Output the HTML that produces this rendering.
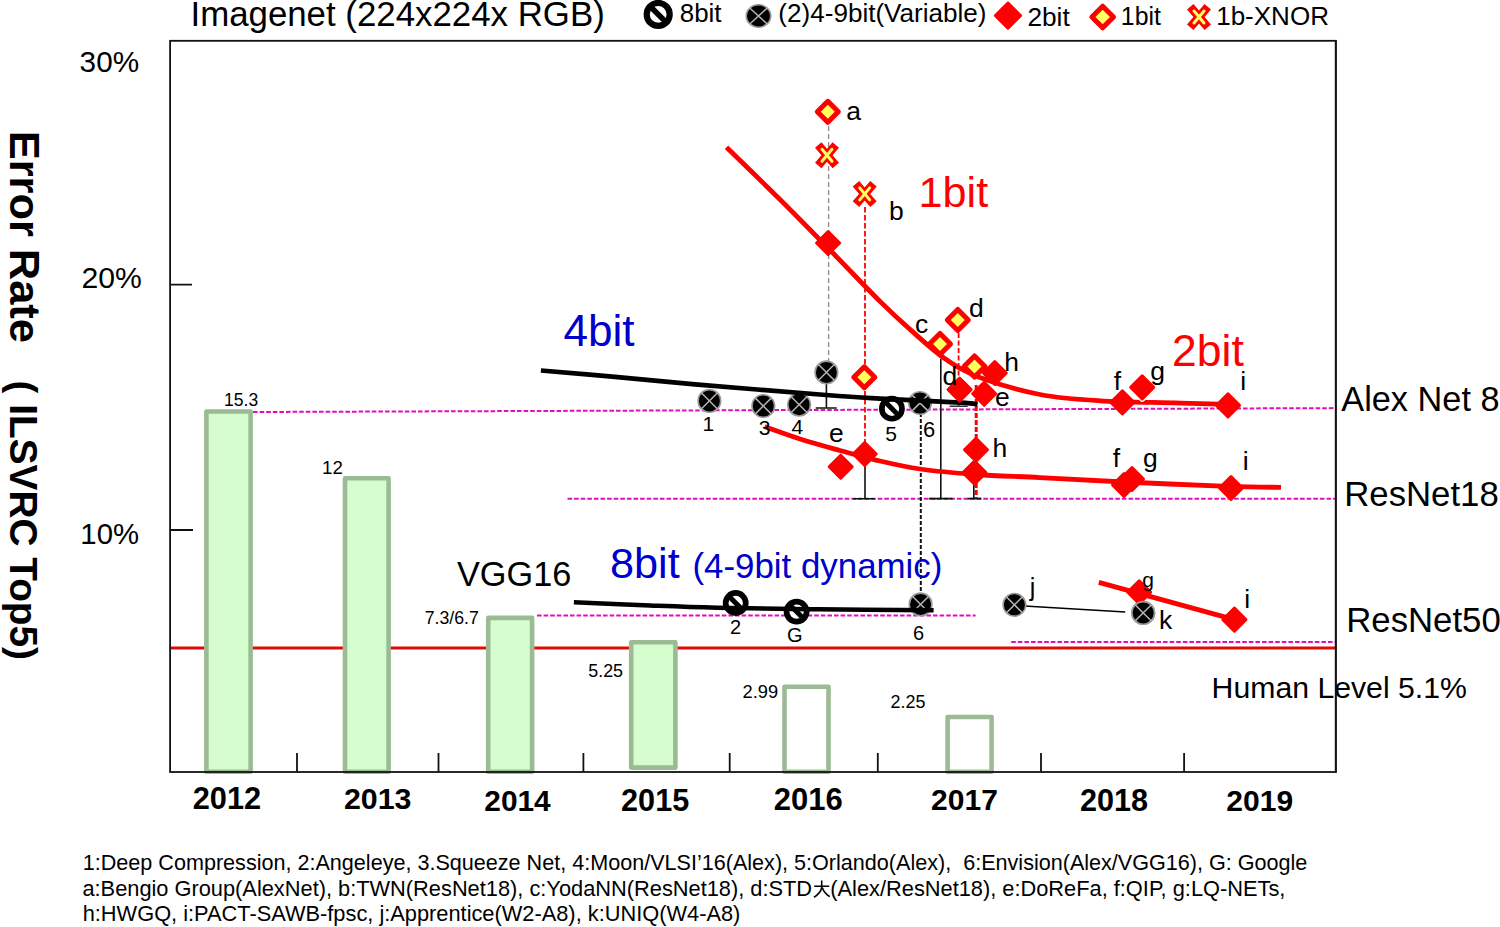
<!DOCTYPE html>
<html><head><meta charset="utf-8"><title>Imagenet chart</title>
<style>
html,body{margin:0;padding:0;background:#fff;width:1500px;height:927px;overflow:hidden}
svg{display:block}
text{font-family:"Liberation Sans",sans-serif}
</style></head><body>
<svg width="1500" height="927" viewBox="0 0 1500 927">
<rect width="1500" height="927" fill="#fff"/>
<text x="190.46" y="25.70" style="font-size:34.85px;" fill="#000" >Imagenet (224x224x RGB)</text>
<circle cx="658.2" cy="14.4" r="11.5" fill="#fff" stroke="#000" stroke-width="6.199999999999999"/>
<line x1="650.06835" y1="6.268350000000002" x2="666.3316500000001" y2="22.53165" stroke="#000" stroke-width="5.5"/>
<text x="679.76" y="21.60" style="font-size:25.91px;" fill="#000" >8bit</text>
<ellipse cx="758.5" cy="16" rx="12.2" ry="11.2" fill="#000" stroke="#9a9a9a" stroke-width="1.6"/>
<path d="M749.716,7.936L767.284,24.064M767.284,7.936L749.716,24.064" stroke="#b4b4b4" stroke-width="1.5"/>
<text x="778.34" y="22.20" style="font-size:26.08px;" fill="#000" >(2)4-9bit(Variable)</text>
<path d="M1008,3.0999999999999996L1020.5,15.6L1008,28.1L995.5,15.6Z" fill="#ff0000" stroke="#ff0000" stroke-width="3" stroke-linejoin="round" />
<text x="1027.39" y="25.80" style="font-size:26.27px;" fill="#000" >2bit</text>
<path d="M1102.7,6.199999999999999L1113.5,17L1102.7,27.8L1091.9,17Z" fill="#ffff5e" stroke="#ff0000" stroke-width="5" stroke-linejoin="round"/>
<text x="1120.86" y="25.00" style="font-size:24.86px;" fill="#000" >1bit</text>
<path d="M1193.0,10.0L1205.0,24.0M1205.0,10.0L1193.0,24.0" stroke="#ff0000" stroke-width="8.5" stroke-linecap="square" fill="none"/>
<path d="M1194.0,11.0L1204.0,23.0M1204.0,11.0L1194.0,23.0" stroke="#ffff5e" stroke-width="3.0" stroke-linecap="round" fill="none"/>
<text x="1216.18" y="25.00" style="font-size:26.03px;" fill="#000" >1b-XNOR</text>
<text transform="translate(9.5,130.70) rotate(90)" style="font-size:43.4px;font-weight:bold">Error Rate</text>
<text transform="translate(9.6,380.46) rotate(90)" style="font-size:38.6px;font-weight:bold">(</text>
<text transform="translate(9.8,404.27) rotate(90)" style="font-size:38.8px;font-weight:bold">ILSVRC Top5)</text>
<text x="79.61" y="72.40" style="font-size:29.71px;" fill="#000" >30%</text>
<text x="81.39" y="287.90" style="font-size:30.17px;" fill="#000" >20%</text>
<text x="80.35" y="544.00" style="font-size:29.33px;" fill="#000" >10%</text>
<line x1="170" y1="648" x2="1336" y2="648" stroke="#e20a04" stroke-width="3.2"/>
<rect x="206.4" y="411.5" width="44.2" height="360.20000000000005" fill="#d5fdcd" stroke="#9bbb95" stroke-width="4.6" stroke-linejoin="round"/>
<rect x="345" y="478.3" width="43.6" height="293.40000000000003" fill="#d5fdcd" stroke="#9bbb95" stroke-width="4.6" stroke-linejoin="round"/>
<rect x="488.2" y="617.9" width="43.9" height="153.80000000000007" fill="#d5fdcd" stroke="#9bbb95" stroke-width="4.6" stroke-linejoin="round"/>
<rect x="631.2" y="642.3" width="44.2" height="125.30000000000007" fill="#d5fdcd" stroke="#9bbb95" stroke-width="4.6" stroke-linejoin="round"/>
<rect x="784.5" y="686.8" width="44" height="85.0" fill="#fff" stroke="#9bbb95" stroke-width="4.6" stroke-linejoin="round"/>
<rect x="947.6" y="717" width="44" height="54.700000000000045" fill="#fff" stroke="#9bbb95" stroke-width="4.6" stroke-linejoin="round"/>
<text x="224.08" y="406.00" style="font-size:17.50px;" fill="#000" >15.3</text>
<text x="322.09" y="473.90" style="font-size:18.67px;" fill="#000" >12</text>
<text x="424.72" y="624.00" style="font-size:17.69px;" fill="#000" >7.3/6.7</text>
<text x="588.29" y="677.00" style="font-size:17.86px;" fill="#000" >5.25</text>
<text x="742.59" y="698.10" style="font-size:18.27px;" fill="#000" >2.99</text>
<text x="890.60" y="708.00" style="font-size:17.90px;" fill="#000" >2.25</text>
<rect x="170.1" y="40.8" width="1165.7" height="731.2" fill="none" stroke="#111" stroke-width="1.8"/>
<path d="M170,284.7H192M170,530H193" stroke="#111" stroke-width="1.8"/>
<line x1="297" y1="772" x2="297" y2="753" stroke="#111" stroke-width="1.8"/>
<line x1="438.5" y1="772" x2="438.5" y2="753" stroke="#111" stroke-width="1.8"/>
<line x1="583.4" y1="772" x2="583.4" y2="753" stroke="#111" stroke-width="1.8"/>
<line x1="729.7" y1="772" x2="729.7" y2="753" stroke="#111" stroke-width="1.8"/>
<line x1="877.8" y1="772" x2="877.8" y2="753" stroke="#111" stroke-width="1.8"/>
<line x1="1041" y1="772" x2="1041" y2="753" stroke="#111" stroke-width="1.8"/>
<line x1="1184.1" y1="772" x2="1184.1" y2="753" stroke="#111" stroke-width="1.8"/>
<text x="192.68" y="808.90" style="font-size:30.76px;font-weight:bold;" fill="#000" >2012</text>
<text x="343.89" y="809.00" style="font-size:30.39px;font-weight:bold;" fill="#000" >2013</text>
<text x="484.30" y="811.00" style="font-size:29.84px;font-weight:bold;" fill="#000" >2014</text>
<text x="621.08" y="811.00" style="font-size:30.62px;font-weight:bold;" fill="#000" >2015</text>
<text x="773.77" y="810.20" style="font-size:30.99px;font-weight:bold;" fill="#000" >2016</text>
<text x="931.10" y="810.00" style="font-size:30.02px;font-weight:bold;" fill="#000" >2017</text>
<text x="1079.88" y="811.00" style="font-size:30.62px;font-weight:bold;" fill="#000" >2018</text>
<text x="1226.30" y="811.00" style="font-size:30.02px;font-weight:bold;" fill="#000" >2019</text>
<line x1="253" y1="412" x2="1336" y2="408.1" stroke="#e40cbe" stroke-width="2" stroke-dasharray="4.6 2"/>
<line x1="567.5" y1="498.8" x2="1336" y2="498.8" stroke="#e40cbe" stroke-width="2" stroke-dasharray="4.6 2"/>
<line x1="537" y1="615.6" x2="975.6" y2="615.6" stroke="#e40cbe" stroke-width="2" stroke-dasharray="4.6 2"/>
<line x1="1011.2" y1="642" x2="1336" y2="642" stroke="#e40cbe" stroke-width="2" stroke-dasharray="4.6 2"/>
<line x1="828.6" y1="126" x2="828.6" y2="362" stroke="#8a8a8a" stroke-width="1.3" stroke-dasharray="5 3"/>
<line x1="865" y1="207" x2="865" y2="454" stroke="#ff0000" stroke-width="1.8" stroke-dasharray="5.5 2.5"/>
<line x1="958.6" y1="333" x2="958.6" y2="380" stroke="#ff0000" stroke-width="1.8" stroke-dasharray="5 2.5"/>
<line x1="976.2" y1="385" x2="976.2" y2="498.6" stroke="#ff0000" stroke-width="3" stroke-dasharray="5 2"/>
<line x1="920.8" y1="413" x2="920.8" y2="593" stroke="#111" stroke-width="2" stroke-dasharray="4 2"/>
<path d="M940.8,358.7V498.6M929,498.6H952.6" stroke="#111" stroke-width="1.6" fill="none"/>
<path d="M865,454V498.7M853.3,498.7H874.7" stroke="#111" stroke-width="1.6" fill="none"/>
<path d="M826.4,383V408M815.7,408H836.7" stroke="#111" stroke-width="1.6" fill="none"/>
<path d="M973.8,484V498.6M967.7,498.6H981.3" stroke="#111" stroke-width="1.6" fill="none"/>
<path d="M958.7,400V406.2M949.6,406.2H967.7" stroke="#333" stroke-width="1.4" fill="none"/>
<line x1="1024.4" y1="605.9" x2="1125.2" y2="611.9" stroke="#000" stroke-width="1.5"/>
<path d="M726.50,147.30 C735.42,156.00 761.98,181.58 780.00,199.50 C798.02,217.42 817.93,237.82 834.60,254.80 C851.27,271.78 867.43,288.97 880.00,301.40 C892.57,313.83 899.22,319.88 910.00,329.40 C920.78,338.92 933.03,350.48 944.70,358.50 C956.37,366.52 964.12,371.50 980.00,377.50 C995.88,383.50 1020.00,390.62 1040.00,394.50 C1060.00,398.38 1077.50,399.40 1100.00,400.80 C1122.50,402.20 1153.67,402.32 1175.00,402.90 C1196.33,403.48 1219.17,404.07 1228.00,404.30" stroke="#ff0000" stroke-width="4.8" fill="none"/>
<path d="M764.70,426.70 C770.58,428.75 787.45,435.03 800.00,439.00 C812.55,442.97 827.50,447.03 840.00,450.50 C852.50,453.97 861.67,456.72 875.00,459.80 C888.33,462.88 903.17,466.55 920.00,469.00 C936.83,471.45 956.00,473.07 976.00,474.50 C996.00,475.93 1015.33,476.35 1040.00,477.60 C1064.67,478.85 1092.67,480.55 1124.00,482.00 C1155.33,483.45 1201.83,485.40 1228.00,486.30 C1254.17,487.20 1272.17,487.22 1281.00,487.40" stroke="#ff0000" stroke-width="4.8" fill="none"/>
<line x1="1098.8" y1="582.4" x2="1234.4" y2="619.6" stroke="#ff0000" stroke-width="4.8"/>
<ellipse cx="709.4" cy="400.9" rx="11.3" ry="11.3" fill="#000" stroke="#9a9a9a" stroke-width="1.6"/>
<path d="M701.264,392.76399999999995L717.536,409.036M717.536,392.76399999999995L701.264,409.036" stroke="#b4b4b4" stroke-width="1.5"/>
<ellipse cx="763.3" cy="406" rx="11.3" ry="11.3" fill="#000" stroke="#9a9a9a" stroke-width="1.6"/>
<path d="M755.164,397.864L771.4359999999999,414.136M771.4359999999999,397.864L755.164,414.136" stroke="#b4b4b4" stroke-width="1.5"/>
<ellipse cx="799.1" cy="404.7" rx="11.3" ry="11.3" fill="#000" stroke="#9a9a9a" stroke-width="1.6"/>
<path d="M790.964,396.56399999999996L807.236,412.836M807.236,396.56399999999996L790.964,412.836" stroke="#b4b4b4" stroke-width="1.5"/>
<ellipse cx="826.4" cy="372.4" rx="11.3" ry="11.3" fill="#000" stroke="#9a9a9a" stroke-width="1.6"/>
<path d="M818.264,364.26399999999995L834.536,380.536M834.536,364.26399999999995L818.264,380.536" stroke="#b4b4b4" stroke-width="1.5"/>
<ellipse cx="920" cy="403" rx="11.3" ry="11.3" fill="#000" stroke="#9a9a9a" stroke-width="1.6"/>
<path d="M911.864,394.864L928.136,411.136M928.136,394.864L911.864,411.136" stroke="#b4b4b4" stroke-width="1.5"/>
<ellipse cx="920.6" cy="604.4" rx="11.3" ry="11.3" fill="#000" stroke="#9a9a9a" stroke-width="1.6"/>
<path d="M912.464,596.264L928.736,612.536M928.736,596.264L912.464,612.536" stroke="#b4b4b4" stroke-width="1.5"/>
<ellipse cx="1014.4" cy="604.8" rx="11.3" ry="11.3" fill="#000" stroke="#9a9a9a" stroke-width="1.6"/>
<path d="M1006.264,596.664L1022.536,612.9359999999999M1022.536,596.664L1006.264,612.9359999999999" stroke="#b4b4b4" stroke-width="1.5"/>
<ellipse cx="1143.2" cy="612.9" rx="11.3" ry="11.3" fill="#000" stroke="#9a9a9a" stroke-width="1.6"/>
<path d="M1135.064,604.764L1151.336,621.036M1151.336,604.764L1135.064,621.036" stroke="#b4b4b4" stroke-width="1.5"/>
<circle cx="891.9" cy="408.7" r="10.05" fill="#fff" stroke="#000" stroke-width="5.7"/>
<line x1="884.793645" y1="401.593645" x2="899.006355" y2="415.806355" stroke="#000" stroke-width="5"/>
<circle cx="735.7" cy="603" r="10.05" fill="#fff" stroke="#000" stroke-width="5.7"/>
<line x1="728.593645" y1="595.893645" x2="742.806355" y2="610.106355" stroke="#000" stroke-width="5"/>
<circle cx="796.6" cy="611.6" r="10.05" fill="#fff" stroke="#000" stroke-width="5.7"/>
<line x1="789.493645" y1="604.493645" x2="803.706355" y2="618.706355" stroke="#000" stroke-width="5"/>
<path d="M540.90,370.50 C553.25,371.57 589.32,374.60 615.00,376.90 C640.68,379.20 659.83,381.28 695.00,384.30 C730.17,387.32 795.17,392.62 826.00,395.00 C856.83,397.38 857.67,397.32 880.00,398.60 C902.33,399.88 943.75,401.75 960.00,402.70 C976.25,403.65 974.58,404.03 977.50,404.30" stroke="#000" stroke-width="4.7" fill="none"/>
<path d="M573.90,602.20 C586.58,602.75 626.15,604.58 650.00,605.50 C673.85,606.42 689.00,607.07 717.00,607.70 C745.00,608.33 781.90,608.87 818.00,609.30 C854.10,609.73 914.33,610.13 933.60,610.30" stroke="#000" stroke-width="4.5" fill="none"/>
<path d="M827.8,101.3L838.3,111.8L827.8,122.3L817.3,111.8Z" fill="#ffff5e" stroke="#ff0000" stroke-width="5" stroke-linejoin="round"/>
<path d="M864.3,366.8L874.8,377.3L864.3,387.8L853.8,377.3Z" fill="#ffff5e" stroke="#ff0000" stroke-width="5" stroke-linejoin="round"/>
<path d="M940,333.5L950.5,344L940,354.5L929.5,344Z" fill="#ffff5e" stroke="#ff0000" stroke-width="5" stroke-linejoin="round"/>
<path d="M957.8,309.4L968.3,319.9L957.8,330.4L947.3,319.9Z" fill="#ffff5e" stroke="#ff0000" stroke-width="5" stroke-linejoin="round"/>
<path d="M974.5,356.0L985.0,366.5L974.5,377.0L964.0,366.5Z" fill="#ffff5e" stroke="#ff0000" stroke-width="5" stroke-linejoin="round"/>
<path d="M821.0,148.3L833.0,162.3M833.0,148.3L821.0,162.3" stroke="#ff0000" stroke-width="8.5" stroke-linecap="square" fill="none"/>
<path d="M822.0,149.3L832.0,161.3M832.0,149.3L822.0,161.3" stroke="#ffff5e" stroke-width="3.0" stroke-linecap="round" fill="none"/>
<path d="M858.7,186.9L870.7,200.9M870.7,186.9L858.7,200.9" stroke="#ff0000" stroke-width="8.5" stroke-linecap="square" fill="none"/>
<path d="M859.7,187.9L869.7,199.9M869.7,187.9L859.7,199.9" stroke="#ffff5e" stroke-width="3.0" stroke-linecap="round" fill="none"/>
<path d="M828.1,231.5L839.6,243L828.1,254.5L816.6,243Z" fill="#ff0000" stroke="#ff0000" stroke-width="3" stroke-linejoin="round" />
<path d="M959.6,378.1L971.1,389.6L959.6,401.1L948.1,389.6Z" fill="#ff0000" stroke="#ff0000" stroke-width="3" stroke-linejoin="round" />
<path d="M984.2,382.3L995.7,393.8L984.2,405.3L972.7,393.8Z" fill="#ff0000" stroke="#ff0000" stroke-width="3" stroke-linejoin="round" />
<path d="M994.8,361.5L1006.3,373L994.8,384.5L983.3,373Z" fill="#ff0000" stroke="#ff0000" stroke-width="3" stroke-linejoin="round" />
<path d="M1122.4,390.9L1133.9,402.4L1122.4,413.9L1110.9,402.4Z" fill="#ff0000" stroke="#ff0000" stroke-width="3" stroke-linejoin="round" />
<path d="M1228,393.9L1239.5,405.4L1228,416.9L1216.5,405.4Z" fill="#ff0000" stroke="#ff0000" stroke-width="3" stroke-linejoin="round" />
<path d="M840.7,455.2L852.2,466.7L840.7,478.2L829.2,466.7Z" fill="#ff0000" stroke="#ff0000" stroke-width="3" stroke-linejoin="round" />
<path d="M864.7,442.5L876.2,454L864.7,465.5L853.2,454Z" fill="#ff0000" stroke="#ff0000" stroke-width="3" stroke-linejoin="round" />
<path d="M976,438.2L987.5,449.7L976,461.2L964.5,449.7Z" fill="#ff0000" stroke="#ff0000" stroke-width="3" stroke-linejoin="round" />
<path d="M974.5,461.1L986.0,472.6L974.5,484.1L963.0,472.6Z" fill="#ff0000" stroke="#ff0000" stroke-width="3" stroke-linejoin="round" />
<path d="M1124,473.5L1135.5,485L1124,496.5L1112.5,485Z" fill="#ff0000" stroke="#ff0000" stroke-width="3" stroke-linejoin="round" />
<path d="M1231,476.5L1242.5,488L1231,499.5L1219.5,488Z" fill="#ff0000" stroke="#ff0000" stroke-width="3" stroke-linejoin="round" />
<path d="M1234.4,608.1L1245.9,619.6L1234.4,631.1L1222.9,619.6Z" fill="#ff0000" stroke="#ff0000" stroke-width="3" stroke-linejoin="round" />
<path d="M1142.2,375.9L1153.7,387.4L1142.2,398.9L1130.7,387.4Z" fill="#ff0000" stroke="#fff" stroke-width="6" stroke-linejoin="round"/>
<path d="M1142.2,375.9L1153.7,387.4L1142.2,398.9L1130.7,387.4Z" fill="#ff0000" stroke="#ff0000" stroke-width="3" stroke-linejoin="round" />
<path d="M1139.2,580.8L1150.7,592.3L1139.2,603.8L1127.7,592.3Z" fill="#ff0000" stroke="#ff0000" stroke-width="3" stroke-linejoin="round" />
<ellipse cx="1143.2" cy="612.9" rx="11.3" ry="11.3" fill="#000" stroke="#9a9a9a" stroke-width="1.6"/>
<path d="M1135.064,604.764L1151.336,621.036M1151.336,604.764L1135.064,621.036" stroke="#b4b4b4" stroke-width="1.5"/>
<path d="M1132,467.5L1143.5,479L1132,490.5L1120.5,479Z" fill="#ff0000" stroke="#ff0000" stroke-width="3" stroke-linejoin="round" />
<text x="846.24" y="119.80" style="font-size:26.5px">a</text>
<text x="889.11" y="220.10" style="font-size:26.5px">b</text>
<text x="915.04" y="332.50" style="font-size:26.5px">c</text>
<text x="969.04" y="316.60" style="font-size:26.5px">d</text>
<text x="942.44" y="385.40" style="font-size:26.5px">d</text>
<text x="1004.31" y="370.60" style="font-size:26.5px">h</text>
<text x="995.04" y="405.70" style="font-size:26.5px">e</text>
<text x="828.94" y="442.00" style="font-size:26.5px">e</text>
<text x="1113.73" y="390.40" style="font-size:26.5px">f</text>
<text x="1150.14" y="379.50" style="font-size:26.5px">g</text>
<text x="1240.31" y="390.40" style="font-size:26.5px">i</text>
<text x="992.61" y="457.20" style="font-size:26.5px">h</text>
<text x="1112.73" y="467.00" style="font-size:26.5px">f</text>
<text x="1142.94" y="466.50" style="font-size:26.5px">g</text>
<text x="1242.81" y="469.60" style="font-size:26.5px">i</text>
<text x="1158.91" y="628.70" style="font-size:26.5px">k</text>
<text x="1244.31" y="607.60" style="font-size:26.5px">i</text>
<text x="1029.85" y="595.80" style="font-size:25px">j</text>
<text x="1142.26" y="586.70" style="font-size:21px">g</text>
<text x="702.53" y="431.30" style="font-size:21px">1</text>
<text x="758.67" y="435.30" style="font-size:21px">3</text>
<text x="791.58" y="434.00" style="font-size:21px">4</text>
<text x="885.16" y="440.70" style="font-size:21px">5</text>
<text x="922.90" y="436.70" style="font-size:22px">6</text>
<text x="730.00" y="634.00" style="font-size:20px">2</text>
<text x="787.00" y="642.00" style="font-size:20px">G</text>
<text x="913.00" y="639.60" style="font-size:20px">6</text>
<text x="918.58" y="207.30" style="font-size:43.19px;" fill="#ff0000" >1bit</text>
<text x="1172.08" y="365.80" style="font-size:44.49px;" fill="#ff0000" >2bit</text>
<text x="563.42" y="346.30" style="font-size:44.15px;" fill="#0000cc" >4bit</text>
<text x="609.97" y="577.70" style="font-size:43.25px;" fill="#0000cc" >8bit</text>
<text x="692.41" y="577.70" style="font-size:34.88px;" fill="#0000cc" >(4-9bit dynamic)</text>
<text x="457.00" y="586.00" style="font-size:34.25px;" fill="#000" >VGG16</text>
<text x="1341.30" y="410.50" style="font-size:34.30px;" fill="#000" >Alex Net 8</text>
<text x="1344.22" y="505.90" style="font-size:34.75px;" fill="#000" >ResNet18</text>
<text x="1346.22" y="632.4" style="font-size:34.75px">ResNet50</text>
<text x="1211.58" y="698.00" style="font-size:30.22px;" fill="#000" >Human Level 5.1%</text>
<line x1="1335.8" y1="40" x2="1335.8" y2="772.8" stroke="#111" stroke-width="1.8"/>
<text x="82.79" y="869.70" style="font-size:21.59px;" fill="#000" >1:Deep Compression, 2:Angeleye, 3.Squeeze Net, 4:Moon/VLSI’16(Alex), 5:Orlando(Alex),&#160; 6:Envision(Alex/VGG16), G: Google</text>
<text x="82.43" y="896.3" style="font-size:21.8px">a:Bengio Group(AlexNet), b:TWN(ResNet18), c:YodaNN(ResNet18), d:STD</text>
<path d="M814.2,886.3H829.2M821.7,880.6V887.5Q820.5,893.5 813.9,897.2M822.3,887.8Q824.5,893.8 829.8,896.6" stroke="#000" stroke-width="1.6" fill="none"/>
<text x="830.3" y="896.3" style="font-size:21.8px">(Alex/ResNet18), e:DoReFa, f:QIP, g:LQ-NETs,</text>
<text x="82.69" y="920.60" style="font-size:21.80px;" fill="#000" >h:HWGQ, i:PACT-SAWB-fpsc, j:Apprentice(W2-A8), k:UNIQ(W4-A8)</text>
</svg>
</body></html>
